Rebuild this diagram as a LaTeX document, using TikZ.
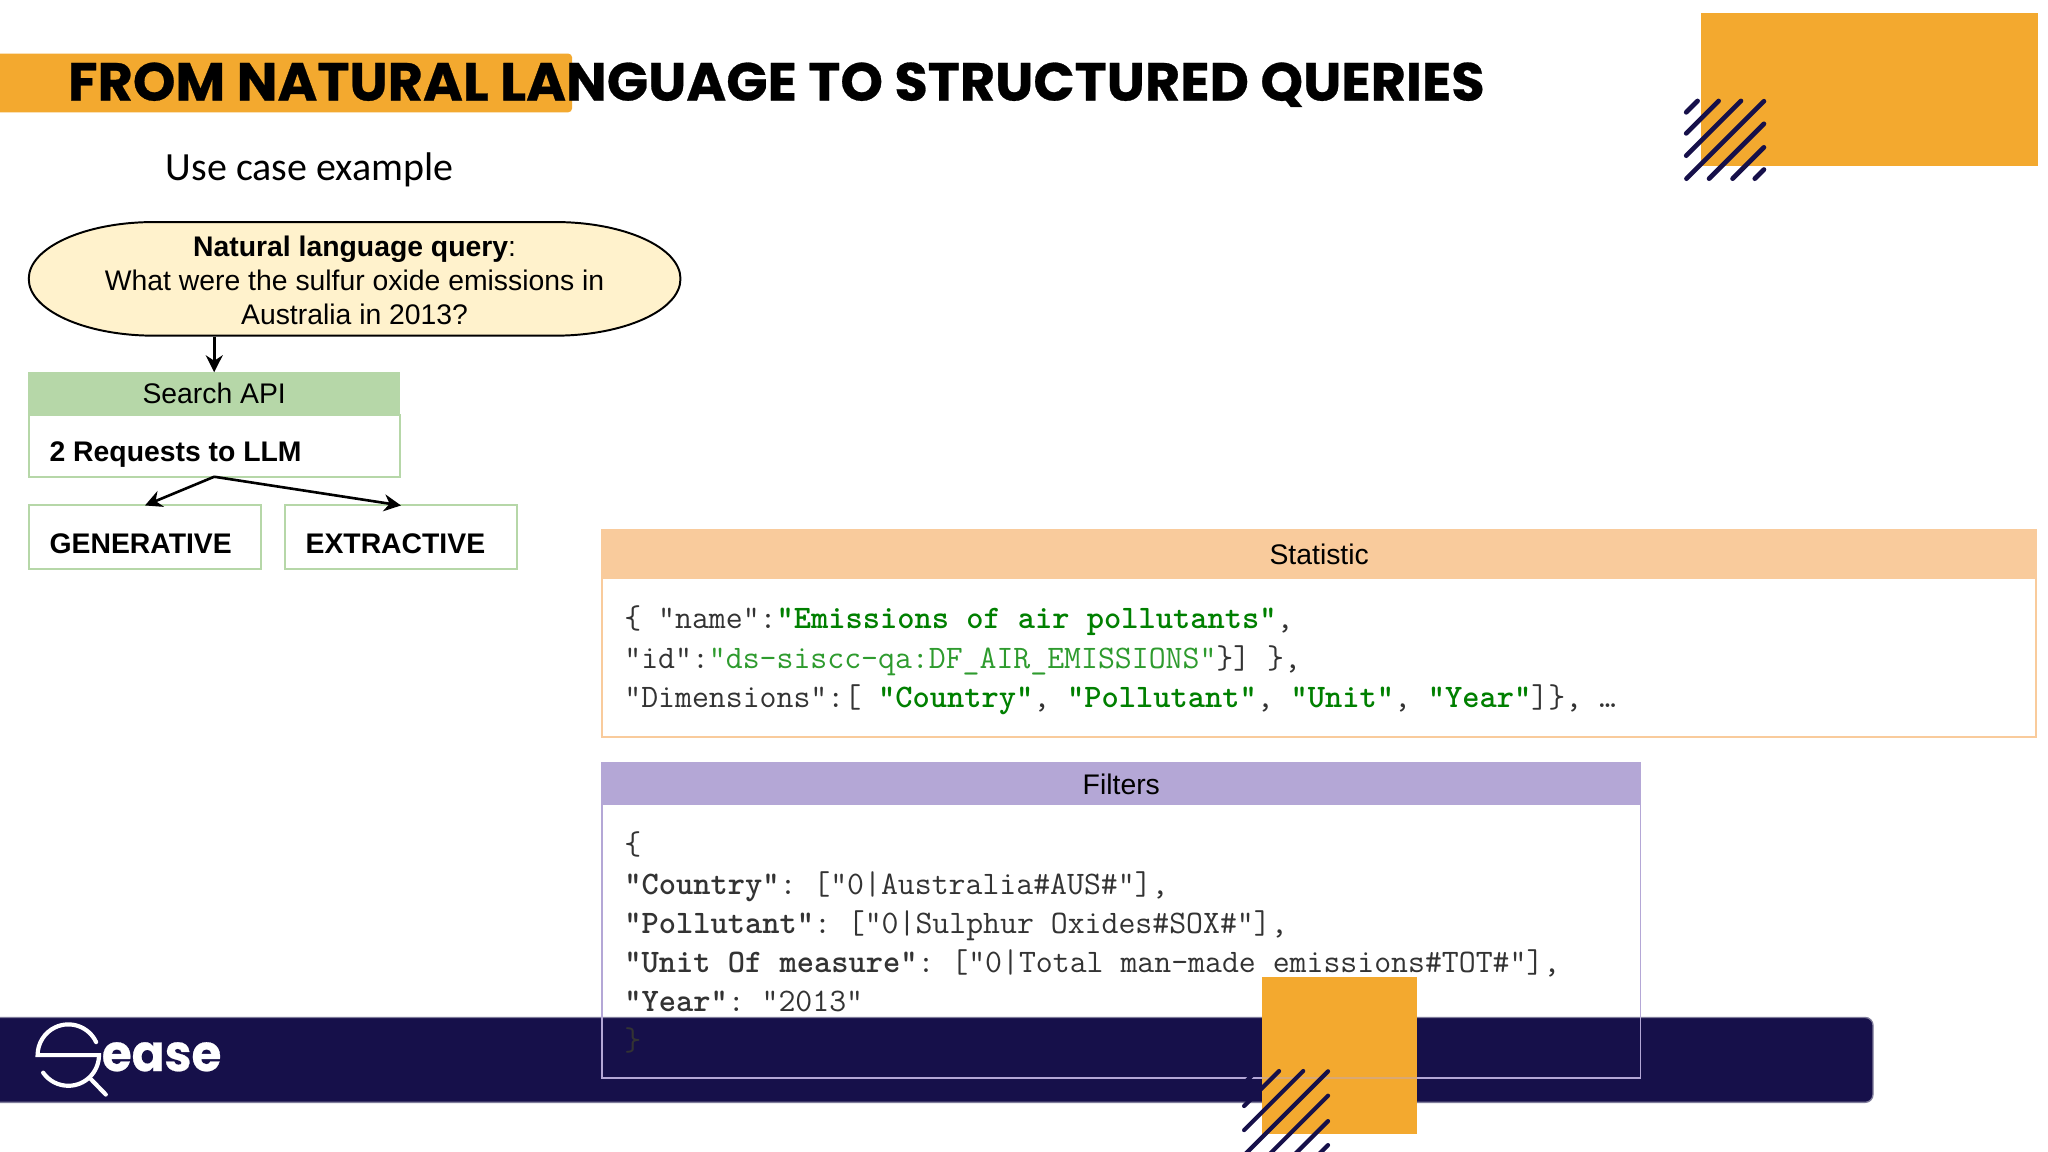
\documentclass[tikz,border=0pt]{standalone}
\usepackage{fontspec}
\setmainfont{Liberation Sans}
\newfontfamily\titlefont[BoldFeatures={FakeBold=0.5}]{Poppins}
\newfontfamily\casefont{Carlito}
\usetikzlibrary{arrows.meta}
\definecolor{orangeb}{HTML}{F3A92F}
\definecolor{navyb}{HTML}{16104A}
\definecolor{greenh}{HTML}{B6D7A8}
\definecolor{peachh}{HTML}{F9CB9C}
\definecolor{purpleh}{HTML}{B4A7D6}
\definecolor{creamq}{HTML}{FFF2CC}
\definecolor{codegray}{HTML}{333333}
\definecolor{codegreen}{HTML}{008000}
\definecolor{codegreenl}{HTML}{2E9B2E}
\newcommand{\sz}[1]{\fontsize{#1}{#1}\selectfont}
\newcommand{\hatchat}[4]{%
  \begin{scope}[shift={(#1,#2)},scale=#3]
    \clip (-2,-2) rectangle (62,62);
    \foreach \c in {8.7,24.8,41.9,59.7,77,95,112}{
      \pgfmathsetmacro{\ax}{max(0,\c-59.5)}
      \pgfmathsetmacro{\bx}{min(59.5,\c)}
      \draw[navyb,line width=#4,line cap=round] (\ax,\c-\ax) -- (\bx,\c-\bx);
    }
  \end{scope}}
\tikzset{
  x=1pt,y=-1pt,
  txt/.style={inner sep=0pt,outer sep=0pt,text=black},
  lbl/.style={txt,font=\sz{21.7}},
  boldlabel/.style={txt,font=\sz{21.7}\bfseries},
  code/.style={inner sep=0pt,outer sep=0pt,anchor=base west,text=codegray,font=\ttfamily\sz{25.15}\frenchspacing},
  headbox/.style={inner sep=0pt,outer sep=0pt,minimum height=#1},
  arr/.style={draw=black,line width=2pt,-{Stealth[length=13pt,width=13pt]}},
}
\begin{document}
\begin{tikzpicture}
\useasboundingbox (0,0) rectangle (1568,882);
\fill[white] (0,0) rectangle (1568,882);
% title bar
\fill[orangeb,rounded corners=3pt] (-10,41) rectangle (438,86);
\node[txt,anchor=base west] (title) at (52,77) {\titlefont\bfseries\sz{41}\scalebox{1.012}[1]{FROM NATURAL LANGUAGE TO STRUCTURED QUERIES}};
% top right decoration
\fill[orangeb] (1302,10) rectangle (1560,127);
\hatchat{1291}{77.3}{1}{3.6pt}
\node[txt,anchor=base west] (usecase) at (127,138) {\casefont\sz{30.6}Use case example};
% query
\draw[fill=creamq,draw=black,line width=1.5pt] (118,170) -- (425,170)
  .. controls (478,170) and (521,189.5) .. (521,213.5)
  .. controls (521,237.5) and (478,257) .. (425,257) -- (118,257)
  .. controls (65,257) and (22,237.5) .. (22,213.5)
  .. controls (22,189.5) and (65,170) .. (118,170) -- cycle;
\node[txt,minimum width=499pt,minimum height=87pt,align=center,font=\fontsize{21.7}{26}\selectfont] (query) at (271.5,214.5)
  {\textbf{Natural language query}:\\What were the sulfur oxide emissions in\\Australia in 2013?};
% search api
\node[headbox=33pt,minimum width=284pt,fill=greenh,draw=greenh,line width=1pt,font=\sz{21.7}] (search) at (164,301.5) {Search API};
\node[headbox=47pt,minimum width=284pt,draw=greenh,line width=1.5pt,anchor=north] (reqbody) at (search.south) {};
\node[boldlabel,anchor=base west] (reqtext) at (38,353.5) {2 Requests to LLM};
\node[headbox=49pt,minimum width=178pt,draw=greenh,line width=1.5pt] (gen) at (111,411.5) {};
\node[headbox=49pt,minimum width=178pt,draw=greenh,line width=1.5pt] (ext) at (307,411.5) {};
\node[boldlabel,anchor=base west] (gentext) at (38,423.5) {GENERATIVE};
\node[boldlabel,anchor=base west] (exttext) at (234,423.5) {EXTRACTIVE};
\draw[arr] (query.south -| search.north) -- (search.north);
\draw[arr] (reqbody.south) -- (gen.north);
\draw[arr] (reqbody.south) -- (ext.north);
% statistic
\node[headbox=158pt,minimum width=1098pt,draw=peachh,line width=1.5pt,fill=white] (statbody) at (1010,485) {};
\node[headbox=37pt,minimum width=1098pt,fill=peachh] (stathead) at (1010,424.5) {};
\node[lbl] (stattext) at (1010,424.5) {Statistic};
\node[code] (s1) at (478,481.5) {\{ "name":\textcolor{codegreen}{\bfseries"Emissions of air pollutants"},};
\node[code] (s2) at (478,511.5) {"id":\textcolor{codegreenl}{"ds-siscc-qa:DF\_AIR\_EMISSIONS"}\}] \},};
\node[code] (s3) at (478,541.5) {"Dimensions":[ \textcolor{codegreen}{\bfseries"Country"}, \textcolor{codegreen}{\bfseries"Pollutant"}, \textcolor{codegreen}{\bfseries"Unit"}, \textcolor{codegreen}{\bfseries"Year"}]\}, …};
% filters
\node[headbox=241pt,minimum width=795pt,fill=white] (filtbody) at (858.5,704.5) {};
\node[code] (f1) at (478,654.5) {\{};
\node[code] (f2) at (478,684.5) {\textbf{"Country"}: ["0|Australia\#AUS\#"],};
\node[code] (f3) at (478,714.5) {\textbf{"Pollutant"}: ["0|Sulphur Oxides\#SOX\#"],};
\node[code] (f4) at (478,744.5) {\textbf{"Unit Of measure"}: ["0|Total man-made emissions\#TOT\#"],};
\node[code] (f5) at (478,774.5) {\textbf{"Year"}: "2013"};
% footer bar
\draw[fill=navyb,draw=navyb!55!white,line width=1pt,rounded corners=6pt] (-10,779) -- (1434,779) -- (1434,844) -- (-10,844);
\node[code] (f6) at (478,804.5) {\}};
\draw[purpleh,line width=1.5pt] (filtbody.north west) rectangle (filtbody.south east);
\node[headbox=32pt,minimum width=795pt,fill=purpleh] (filthead) at (858.5,600) {};
\node[lbl] (filttext) at (858.5,600.5) {Filters};
% bottom decoration
\fill[orangeb] (966,748) rectangle (1085,868);
\draw[purpleh!40!orangeb,line width=1.5pt] (966,825) -- (1085,825);
\hatchat{952.5}{820}{1.08}{3.2pt}
% logo
\begin{scope}[white,line width=3.2pt,line cap=round]
  \draw (52.3,807.8) ++(-25:23.5) arc[start angle=-25,end angle=-180,radius=23.5] -- (75.8,807.8) arc[start angle=0,end angle=145,radius=23.5];
  \draw (69,825.6) -- (81,838);
\end{scope}
\node[txt,anchor=base west,text=white] (logo) at (78,820) {\titlefont\bfseries\sz{39}\scalebox{0.95}[1]{ease}};
\end{tikzpicture}
\end{document}
